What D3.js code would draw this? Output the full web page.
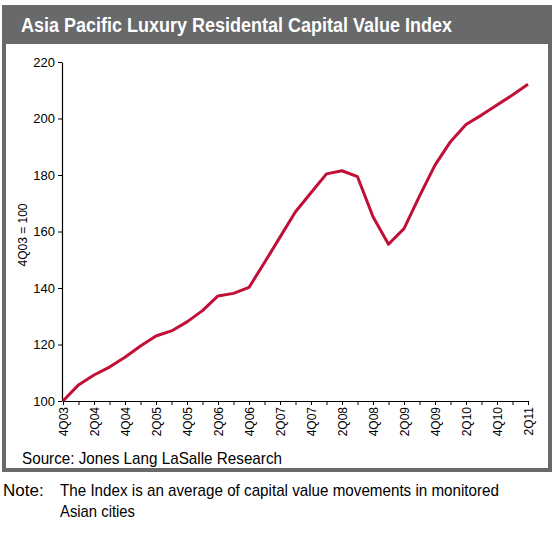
<!DOCTYPE html>
<html>
<head>
<meta charset="utf-8">
<script src="https://cdn.jsdelivr.net/npm/d3@7"></script>
<style>
  body { margin: 0; background: #fff; }
  svg { display: block; }
  text { font-family: "Liberation Sans Narrow", "Arial Narrow", "Liberation Sans", Arial, sans-serif; }
</style>
</head>
<body>
<svg id="chart" width="556" height="533"></svg>
<script>
const TITLE = 'Asia Pacific Luxury Residental Capital Value Index';
const SOURCE = 'Source: Jones Lang LaSalle Research';
const NOTE = ['The Index is an average of capital value movements in monitored', 'Asian cities'];
const Y_LABEL = '4Q03 = 100';

const quarters = [
  '4Q03', '1Q04', '2Q04', '3Q04', '4Q04', '1Q05', '2Q05', '3Q05', '4Q05',
  '1Q06', '2Q06', '3Q06', '4Q06', '1Q07', '2Q07', '3Q07', '4Q07',
  '1Q08', '2Q08', '3Q08', '4Q08', '1Q09', '2Q09', '3Q09', '4Q09',
  '1Q10', '2Q10', '3Q10', '4Q10', '1Q11', '2Q11'
];
const indexValues = [
  100, 105.7, 109.2, 112, 115.5, 119.5, 123, 124.8, 128,
  132, 137.2, 138.1, 140.2, 149, 158, 167, 173.7,
  180.4, 181.5, 179.4, 165.2, 155.5, 161, 172.5, 183.5,
  191.8, 197.9, 201.2, 204.8, 208.3, 212.1
];
const yTicks = [100, 120, 140, 160, 180, 200, 220];

const RED = '#c20f37';
const GREY = '#67696b';

const svg = d3.select('#chart');

// frame + title bar
svg.append('rect')
  .attr('x', 4).attr('y', 7)
  .attr('width', 546).attr('height', 463)
  .attr('fill', 'none')
  .attr('stroke', GREY)
  .attr('stroke-width', 4);
svg.append('rect')
  .attr('x', 2).attr('y', 5)
  .attr('width', 550).attr('height', 39)
  .attr('fill', GREY);
svg.append('text')
  .attr('x', 21).attr('y', 32)
  .attr('fill', '#fff')
  .attr('font-weight', 'bold')
  .attr('font-size', 20)
  .attr('textLength', 431)
  .attr('lengthAdjust', 'spacingAndGlyphs')
  .text(TITLE);

const x = d3.scalePoint().domain(quarters).range([63, 528]);
const y = d3.scaleLinear().domain([100, 220]).range([401, 62]);

// axes
const yAxis = svg.append('g')
  .attr('transform', 'translate(62,0)')
  .call(d3.axisLeft(y).tickValues(yTicks).tickSize(4).tickSizeOuter(0).tickPadding(3));
yAxis.select('.domain').attr('stroke', '#000').attr('stroke-width', 1.2);
yAxis.selectAll('text').attr('font-size', 13).attr('fill', '#000');

const xAxis = svg.append('g')
  .attr('transform', 'translate(0,401)')
  .call(d3.axisBottom(x).tickSize(4).tickSizeOuter(0)
    .tickFormat((d, i) => i % 2 === 0 ? d : ''));
xAxis.select('.domain').attr('stroke', '#000').attr('stroke-width', 1.2);
xAxis.selectAll('text')
  .attr('font-size', 12)
  .attr('fill', '#000')
  .attr('text-anchor', 'end')
  .attr('transform', 'rotate(-90)')
  .attr('x', -6)
  .attr('y', 0)
  .attr('dy', '0.35em');

svg.append('text')
  .attr('transform', 'translate(27,235) rotate(-90)')
  .attr('text-anchor', 'middle')
  .attr('font-size', 12)
  .attr('fill', '#000')
  .text(Y_LABEL);

// index line
svg.append('path')
  .datum(indexValues)
  .attr('fill', 'none')
  .attr('stroke', RED)
  .attr('stroke-width', 3)
  .attr('stroke-linejoin', 'round')
  .attr('d', d3.line().x((d, i) => x(quarters[i])).y(d => y(d)));

// source + note
svg.append('text')
  .attr('x', 22).attr('y', 464)
  .attr('font-size', 17)
  .attr('fill', '#000')
  .attr('textLength', 260)
  .attr('lengthAdjust', 'spacingAndGlyphs')
  .text(SOURCE);

svg.append('text')
  .attr('x', 3).attr('y', 496)
  .attr('font-size', 17)
  .attr('fill', '#000')
  .text('Note:');
svg.selectAll('text.note')
  .data(NOTE)
  .join('text')
  .attr('class', 'note')
  .attr('x', 60)
  .attr('y', (d, i) => 496 + i * 21)
  .attr('font-size', 17)
  .attr('fill', '#000')
  .attr('textLength', (d, i) => i === 0 ? 439 : 75)
  .attr('lengthAdjust', 'spacingAndGlyphs')
  .text(d => d);
</script>
</body>
</html>
